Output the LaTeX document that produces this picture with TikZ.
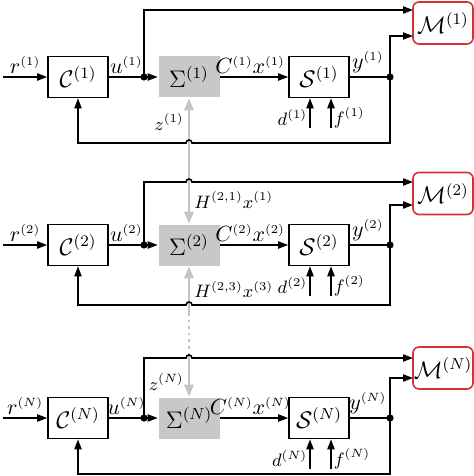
\documentclass[tikz,border=0pt]{standalone}
\usepackage{amsmath,amssymb}
\usepackage{tikz}
\usetikzlibrary{arrows.meta, positioning, calc}
\DeclareMathSizes{13}{13}{8}{6}
\DeclareMathSizes{10.5}{10.5}{6}{5}
\DeclareMathSizes{9.5}{9.5}{6}{5}
\definecolor{mred}{RGB}{212,50,50}
\definecolor{sgray}{RGB}{200,200,200}
\definecolor{lgray}{RGB}{196,196,196}
\tikzset{
    block/.style={draw, minimum width=30pt, minimum height=20.5pt, inner sep=0pt, font=\fontsize{13}{15}\selectfont}, % plant and controller
    sigbox/.style={fill=sgray, minimum width=30.5pt, minimum height=20.5pt, inner sep=0pt, font=\fontsize{13}{15}\selectfont}, % coupled subsystem
    monbox/.style={draw=mred, fill=white, rounded corners=3pt, minimum width=30pt, minimum height=21pt, inner sep=0pt, font=\fontsize{13}{15}\selectfont},
    lbl/.style={font=\fontsize{10.5}{12}\selectfont, inner sep=1.5pt},
    sml/.style={font=\fontsize{9.5}{11}\selectfont, inner sep=2pt},
}
\tikzstyle{arrow} = [-{Triangle[length=5pt,width=3.6pt]}]
\tikzstyle{garrow} = [draw=lgray, line width=1.3pt, -{Triangle[length=6pt,width=4.6pt]}]

\begin{document}
\begin{tikzpicture}[x=0.5pt, y=-0.5pt, line width=0.8pt]
    \useasboundingbox (0,0) rectangle (474,476);

    % one row per subsystem
    \foreach \i/\yt/\ym/\yc/\yf in {1/10/36/77/143, 2/182/205/245/305, N/358/378/418/474}{
        \node[block] (C\i) at (78,\yc) {$\mathcal{C}^{(\i)}$};
        \node[sigbox] (Sig\i) at (189,\yc) {$\Sigma^{(\i)}$};
        \node[block] (S\i) at (319,\yc) {$\mathcal{S}^{(\i)}$};
        \node[monbox] (M\i) at (443,{(\yt+\ym)/2}) {$\mathcal{M}^{(\i)}$};
        \coordinate (r\i) at (3,\yc);
        \coordinate (u\i) at (144,\yc);
        \coordinate (y\i) at (390,\yc);
        \coordinate (mt\i) at (413,\yt);
        \coordinate (mb\i) at (413,\ym);
        \coordinate (fb\i) at (390,\yf);
        \coordinate (ht\i) at (186,\yt);
        \coordinate (hf\i) at (192,\yf);
        \coordinate (d\i) at (310,{\yc+51});
        \coordinate (f\i) at (331,{\yc+51});

        \draw[arrow] (r\i) -- node[lbl, above]{$r^{(\i)}$} (C\i);
        \draw (C\i) -- node[lbl, above]{$u^{(\i)}$} (u\i);
        \draw[arrow] (u\i) -- (Sig\i);
        \draw[arrow] (Sig\i) -- node[lbl, above, xshift=-2pt]{$C^{(\i)}x^{(\i)}$} (S\i);
        \draw (S\i) -- node[lbl, above, xshift=-1pt]{$y^{(\i)}$} (y\i);
        \draw[arrow] (y\i) |- (mb\i);
        \fill (u\i) circle (1.8pt);
        \fill (y\i) circle (1.8pt);
        \draw[arrow] (d\i) -- node[sml, left, pos=0.35, inner sep=1pt]{$d^{(\i)}$} (d\i |- S\i.south);
        \draw[arrow] (f\i) -- node[sml, right, pos=0.35, inner sep=1pt]{$f^{(\i)}$} (f\i |- S\i.south);
    }

    % coupling between subsystems
    \coordinate (g1) at (189,313);
    \coordinate (g2) at (189,355);
    \draw[garrow, {Triangle[length=6pt,width=4.6pt]}-{Triangle[length=6pt,width=4.6pt]}] (Sig1) -- node[sml, left, pos=0.19]{$z^{(1)}$} node[sml, right, pos=0.81]{$H^{(2,1)}x^{(1)}$} (Sig2);
    \draw[garrow] (g1) -- node[sml, right, pos=0.5]{$H^{(2,3)}x^{(3)}$} (Sig2);
    \draw[draw=lgray, line width=1.3pt, dotted] (g1) -- (g2);
    \draw[garrow] (g2) -- node[sml, left, pos=0.65]{$z^{(N)}$} (SigN);

    % inputs to the monitors
    \draw[arrow] (u1) |- (mt1);
    \draw[arrow] (u2) |- (ht2) arc[start angle=180, end angle=0, radius=1.5pt] -- (mt2);
    \draw[arrow] (uN) |- (htN) arc[start angle=180, end angle=0, radius=1.5pt] -- (mtN);

    % feedback
    \draw[arrow] (y1) -- (fb1) -- (hf1) arc[start angle=0, end angle=180, radius=1.5pt] -| (C1.south);
    \draw[arrow] (y2) -- (fb2) -- (hf2) arc[start angle=0, end angle=180, radius=1.5pt] -| (C2.south);
    \draw[arrow] (yN) -- (fbN) -| (CN.south);
\end{tikzpicture}
\end{document}
